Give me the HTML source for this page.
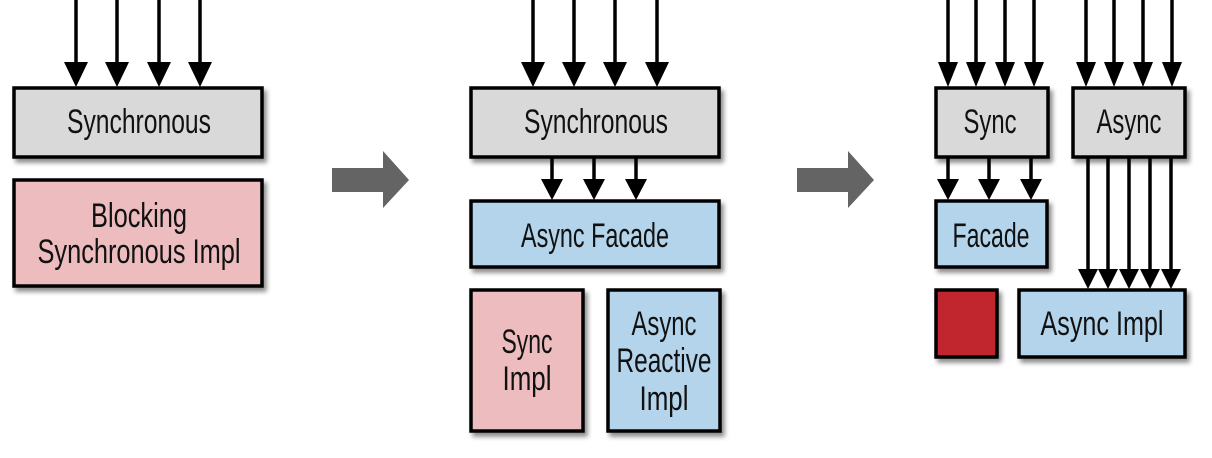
<!DOCTYPE html>
<html><head><style>
html,body{margin:0;padding:0;background:#fff;}
svg{display:block}
text{font-family:"Liberation Sans Narrow","Liberation Sans",sans-serif;font-size:34px;fill:#111;text-anchor:middle;}
</style></head><body>
<svg width="1212" height="458" viewBox="0 0 1212 458" xmlns="http://www.w3.org/2000/svg">
<defs>
<filter id="sh" x="-10%" y="-10%" width="130%" height="130%">
<feDropShadow dx="3" dy="4" stdDeviation="2.5" flood-color="#000" flood-opacity="0.45"/>
</filter>
</defs>
<g fill="none" stroke="#000" stroke-width="3.5">
<path d="M76 0V66M117 0V66M159 0V66M200 0V66
M533 0V66M574 0V66M615 0V66M657 0V66
M552 158V182M594 158V182M636 158V182
M948 0V66M976 0V66M1005 0V66M1034 0V66
M1086 0V66M1114 0V66M1143 0V66M1172 0V66
M948 158V182M989 158V182M1031 158V182
M1088 158V272M1108 158V272M1129 158V272M1150 158V272M1171 158V272"/>
</g>
<g fill="#000">
<path d="M64 62h24l-12 25zM105 62h24l-12 25zM147 62h24l-12 25zM188 62h24l-12 25z"/>
<path d="M521 62h24l-12 25zM562 62h24l-12 25zM603 62h24l-12 25zM645 62h24l-12 25z"/>
<path d="M541 179h22l-11 21zM583 179h22l-11 21zM625 179h22l-11 21z"/>
<path d="M938 62h20l-10 25zM966 62h20l-10 25zM995 62h20l-10 25zM1024 62h20l-10 25z"/>
<path d="M1076 62h20l-10 25zM1104 62h20l-10 25zM1133 62h20l-10 25zM1162 62h20l-10 25z"/>
<path d="M937 179h22l-11 21zM978 179h22l-11 21zM1020 179h22l-11 21z"/>
<path d="M1078 269h20l-10 20zM1098 269h20l-10 20zM1119 269h20l-10 20zM1140 269h20l-10 20zM1161 269h20l-10 20z"/>
</g>
<path d="M332 168H383V151L409 180L383 208V192H332Z" fill="#646464"/>
<path d="M797 168H848V151L874 180L848 208V192H797Z" fill="#646464"/>
<g stroke="#000" stroke-width="3.5" filter="url(#sh)">
<rect x="14" y="88" width="248" height="69" fill="#d9d9d9"/>
<rect x="14" y="180" width="248" height="106" fill="#ecbcbf"/>
<rect x="471" y="88" width="248" height="69" fill="#d9d9d9"/>
<rect x="471" y="201" width="248" height="66" fill="#b3d4ea"/>
<rect x="471" y="290" width="112" height="141" fill="#ecbcbf"/>
<rect x="608" y="290" width="112" height="141" fill="#b3d4ea"/>
<rect x="936" y="88" width="112" height="69" fill="#d9d9d9"/>
<rect x="1073" y="88" width="112" height="69" fill="#d9d9d9"/>
<rect x="936" y="201" width="111" height="66" fill="#b3d4ea"/>
<rect x="936" y="290" width="61" height="67" fill="#c1272d"/>
<rect x="1019" y="290" width="166" height="67" fill="#b3d4ea"/>
</g>
<text x="139" y="133" textLength="144" lengthAdjust="spacingAndGlyphs">Synchronous</text>
<text x="139" y="227" textLength="96" lengthAdjust="spacingAndGlyphs">Blocking</text>
<text x="139" y="263" textLength="203" lengthAdjust="spacingAndGlyphs">Synchronous Impl</text>
<text x="596" y="133" textLength="144" lengthAdjust="spacingAndGlyphs">Synchronous</text>
<text x="595" y="247" textLength="148" lengthAdjust="spacingAndGlyphs">Async Facade</text>
<text x="527" y="353" textLength="51" lengthAdjust="spacingAndGlyphs">Sync</text>
<text x="527" y="390" textLength="49" lengthAdjust="spacingAndGlyphs">Impl</text>
<text x="664" y="335" textLength="65" lengthAdjust="spacingAndGlyphs">Async</text>
<text x="664" y="372" textLength="95" lengthAdjust="spacingAndGlyphs">Reactive</text>
<text x="664" y="410" textLength="49" lengthAdjust="spacingAndGlyphs">Impl</text>
<text x="990" y="133" textLength="53" lengthAdjust="spacingAndGlyphs">Sync</text>
<text x="1129" y="133" textLength="65" lengthAdjust="spacingAndGlyphs">Async</text>
<text x="991" y="247" textLength="77" lengthAdjust="spacingAndGlyphs">Facade</text>
<text x="1102" y="335" textLength="123" lengthAdjust="spacingAndGlyphs">Async Impl</text>
</svg>
</body></html>
